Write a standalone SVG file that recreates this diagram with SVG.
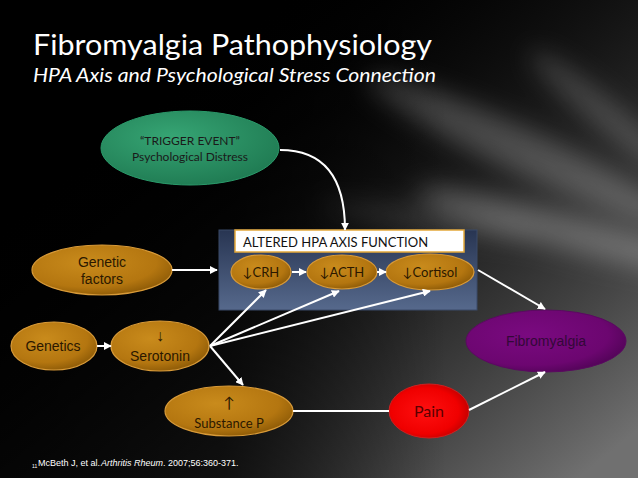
<svg xmlns="http://www.w3.org/2000/svg" width="638" height="478" viewBox="0 0 638 478">
<defs>
<linearGradient id="bg" x1="0.25" y1="0.2" x2="1" y2="0.9">
<stop offset="0" stop-color="#000" stop-opacity="0"/>
<stop offset="0.45" stop-color="#2a2a2a" stop-opacity="0.6"/>
<stop offset="1" stop-color="#707070"/>
</linearGradient>
<linearGradient id="bgL" x1="0" y1="0" x2="1" y2="0">
<stop offset="0" stop-color="#000"/>
<stop offset="0.35" stop-color="#000" stop-opacity="0.9"/>
<stop offset="0.7" stop-color="#000" stop-opacity="0"/>
</linearGradient>
<filter id="blur" x="-50%" y="-50%" width="200%" height="200%"><feGaussianBlur stdDeviation="12"/></filter>
<radialGradient id="orange" cx="0.4" cy="0.35" r="0.7">
<stop offset="0" stop-color="#c98b1c"/>
<stop offset="0.7" stop-color="#b47610"/>
<stop offset="1" stop-color="#8a5806"/>
</radialGradient>
<radialGradient id="green" cx="0.4" cy="0.35" r="0.7">
<stop offset="0" stop-color="#36a574"/>
<stop offset="1" stop-color="#1f7a52"/>
</radialGradient>
<radialGradient id="red" cx="0.45" cy="0.5" r="0.6">
<stop offset="0" stop-color="#ff1010"/>
<stop offset="0.7" stop-color="#f00000"/>
<stop offset="1" stop-color="#b80000"/>
</radialGradient>
<radialGradient id="purple" cx="0.4" cy="0.4" r="0.7">
<stop offset="0" stop-color="#7a0a80"/>
<stop offset="0.7" stop-color="#6c0670"/>
<stop offset="1" stop-color="#4a0350"/>
</radialGradient>
<linearGradient id="box" x1="0" y1="0" x2="0" y2="1">
<stop offset="0" stop-color="#283552"/>
<stop offset="1" stop-color="#56698c"/>
</linearGradient>
<marker id="ah" viewBox="0 0 10 10" refX="9" refY="5" markerWidth="4" markerHeight="4" orient="auto" markerUnits="strokeWidth">
<path d="M0,0 L10,5 L0,10 z" fill="#fff"/>
</marker>
<style>
.on{fill:url(#orange);stroke:#d89a38;stroke-width:1.2}
.arial{font-family:"Liberation Sans",Arial,sans-serif}
.cand{font-family:Lato,"Open Sans",sans-serif}
.dk{fill:#2b1800}
.cite{font-family:"Liberation Sans",Arial,sans-serif;font-size:9px;fill:#fff}
.conn line,.conn path{stroke:#fff;stroke-width:2;fill:none;marker-end:url(#ah)}
</style>
</defs>
<rect width="638" height="478" fill="#000"/>
<rect width="638" height="478" fill="url(#bg)"/>
<g filter="url(#blur)" fill="#fff">
<ellipse cx="520" cy="150" rx="170" ry="22" transform="rotate(25 520 150)" opacity="0.22"/>
<ellipse cx="560" cy="230" rx="150" ry="18" transform="rotate(15 560 230)" opacity="0.25"/>
<ellipse cx="600" cy="110" rx="90" ry="14" transform="rotate(40 600 110)" opacity="0.18"/>
<ellipse cx="430" cy="220" rx="110" ry="12" transform="rotate(8 430 220)" opacity="0.12"/>
</g>
<rect width="638" height="478" fill="url(#bgL)" opacity="0.7"/>

<text x="33" y="55" font-family="Lato,'Open Sans',sans-serif" font-size="28" fill="#fff" textLength="399" lengthAdjust="spacingAndGlyphs">Fibromyalgia Pathophysiology</text>
<text x="33" y="82" font-family="Lato,'Open Sans',sans-serif" font-size="19" font-style="italic" fill="#fff" textLength="403" lengthAdjust="spacingAndGlyphs">HPA Axis and Psychological Stress Connection</text>

<g id="hpa-box">
<rect x="219" y="230" width="258" height="80" fill="url(#box)" stroke="#3a4a68" stroke-width="1"/>
<rect x="235" y="230" width="229" height="22" fill="#fff" stroke="#e3a83a" stroke-width="1.5"/>
<text x="243" y="247" class="cand" font-size="13" fill="#111">ALTERED HPA AXIS FUNCTION</text>
</g>

<g id="trigger">
<ellipse cx="190" cy="148" rx="89" ry="37" fill="url(#green)" stroke="#2a9a6a" stroke-width="1"/>
<text x="190" y="145" class="cand" font-size="12" fill="#1a1a1a" text-anchor="middle">“TRIGGER EVENT”</text>
<text x="190" y="161" class="cand" font-size="12" fill="#1a1a1a" text-anchor="middle">Psychological Distress</text>
</g>

<g id="crh">
<ellipse cx="261" cy="272" rx="30" ry="17" class="on"/>
<text x="261" y="277" class="cand dk" font-size="13" text-anchor="middle">↓CRH</text>
</g>
<g id="acth">
<ellipse cx="342" cy="272" rx="35" ry="17" class="on"/>
<text x="342" y="277" class="cand dk" font-size="13" text-anchor="middle">↓ACTH</text>
</g>
<g id="cortisol">
<ellipse cx="430" cy="272" rx="44" ry="18" class="on"/>
<text x="430" y="277" class="cand dk" font-size="13" text-anchor="middle">↓Cortisol</text>
</g>

<g id="genetic-factors">
<ellipse cx="102" cy="270" rx="70" ry="25" class="on"/>
<text x="102" y="267" class="arial dk" font-size="14" text-anchor="middle">Genetic</text>
<text x="102" y="284" class="arial dk" font-size="14" text-anchor="middle">factors</text>
</g>

<g id="genetics">
<ellipse cx="54" cy="346" rx="43" ry="24" class="on"/>
<text x="53" y="351" class="arial dk" font-size="14" text-anchor="middle">Genetics</text>
</g>

<g id="serotonin">
<ellipse cx="160" cy="346" rx="49" ry="25" class="on"/>
<text x="160" y="341" class="arial dk" font-size="16" text-anchor="middle">↓</text>
<text x="160" y="361" class="arial dk" font-size="14" text-anchor="middle">Serotonin</text>
</g>

<g id="substance-p">
<ellipse cx="229" cy="411" rx="64" ry="25" class="on"/>
<text x="229" y="408" class="cand dk" font-size="15" text-anchor="middle">↑</text>
<text x="229" y="428" class="cand dk" font-size="13" text-anchor="middle">Substance P</text>
</g>

<g id="pain">
<ellipse cx="429" cy="411" rx="40" ry="27" fill="url(#red)" stroke="#d02020" stroke-width="1"/>
<text x="429" y="417" class="cand" font-size="16" fill="#5a0000" text-anchor="middle">Pain</text>
</g>

<g id="fibromyalgia">
<ellipse cx="546" cy="341" rx="80" ry="31" fill="url(#purple)" stroke="#5a0a60" stroke-width="1"/>
<text x="546" y="346" class="arial" font-size="14" fill="#330838" text-anchor="middle">Fibromyalgia</text>
</g>

<g class="conn" id="connectors">
<path d="M280,150 C330,150 345,185 345,230"/>
<line x1="172" y1="270" x2="217" y2="270"/>
<line x1="292" y1="272" x2="306" y2="272"/>
<line x1="377" y1="272" x2="386" y2="272"/>
<line x1="97" y1="346" x2="111" y2="346"/>
<line x1="210" y1="346" x2="266" y2="290"/>
<line x1="210" y1="346" x2="339" y2="291"/>
<line x1="210" y1="346" x2="430" y2="291"/>
<line x1="210" y1="346" x2="243" y2="385"/>
<line x1="293" y1="411" x2="389" y2="411" style="marker-end:none"/>
<line x1="469" y1="410" x2="545" y2="372"/>
<line x1="478" y1="270" x2="545" y2="309"/>
</g>

<g id="citation">
<text x="32" y="468" class="arial" font-size="5" fill="#fff">11</text>
<text x="38" y="466" class="cite">McBeth J, et al.</text>
<text x="101" y="466" class="cite" font-style="italic">Arthritis Rheum</text>
<text x="163" y="466" class="cite">. 2007;56:360-371.</text>
</g>
</svg>
